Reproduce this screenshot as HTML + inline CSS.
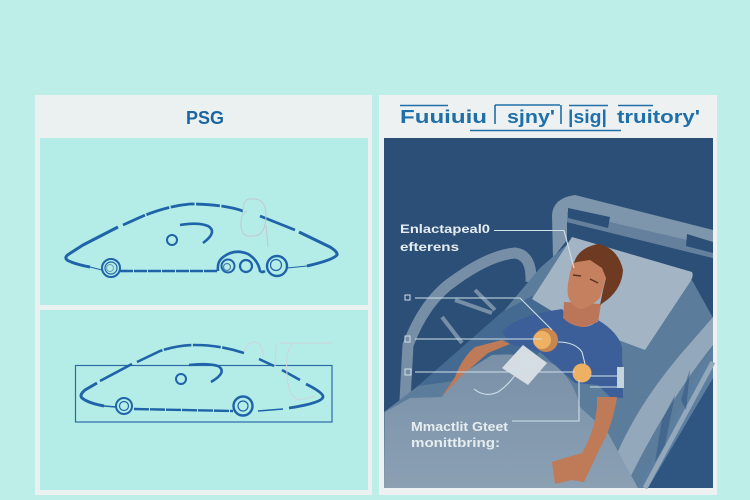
<!DOCTYPE html>
<html><head><meta charset="utf-8"><style>
html,body{margin:0;padding:0;background:#b9ece6;width:750px;height:500px;overflow:hidden}
svg{display:block}
text{font-family:"Liberation Sans",sans-serif}
</style></head><body>
<svg width="750" height="500" viewBox="0 0 750 500" xmlns="http://www.w3.org/2000/svg">
<defs>
<linearGradient id="bl" x1="0" y1="0" x2="0" y2="1"><stop offset="0" stop-color="#7990a8"/><stop offset="1" stop-color="#8ba0b3"/></linearGradient>
</defs>
<rect width="750" height="500" fill="#bdeee8"/>
<!-- left panel -->
<rect x="35" y="95" width="337" height="400" fill="#ebf0f0"/>
<rect x="40" y="138" width="328" height="167" fill="#b4ece8"/>
<rect x="40" y="310" width="328" height="180" fill="#b4ece8"/>
<text x="205" y="124" font-size="18" font-weight="bold" fill="#1c659f" text-anchor="middle">PSG</text>
<!-- car 1 -->
<g fill="none" stroke="#1f63a8" stroke-linecap="butt" stroke-linejoin="round">
<path d="M90 267 Q74 264 67 260 Q64 257 69 254 L83 245 L118 227" stroke-width="3"/>
<path d="M123 225 L143 216 Q168 206 190 204 Q222 204 243 211" stroke-width="2.8" stroke-dasharray="24 1.5"/>
<path d="M260 216 L295 230" stroke-width="2.8"/>
<path d="M299 232 L330 247 Q338 252 337 255 Q333 260 307 266" stroke-width="3"/>
<path d="M90 267 L102 270 M307 266 L287 268" stroke-width="1"/>
<path d="M120 271 L218 271" stroke-width="2.6" stroke-dasharray="13 1"/>
<path d="M180 225 Q198 222 208 226 Q218 232 203 243" stroke-width="2.6"/>
<circle cx="172" cy="240" r="5" stroke-width="2"/>
<circle cx="111" cy="268" r="9" stroke-width="2"/>
<circle cx="111" cy="268" r="6" stroke-width="1.2"/>
<circle cx="110" cy="268" r="3.5" stroke-width="1" stroke="#6fa0b8"/>
<circle cx="277" cy="266" r="10" stroke-width="2.4"/>
<circle cx="276" cy="265" r="5.5" stroke-width="1.2"/>
<path d="M218 271 Q217 262 222 258 Q234 248 248 254 Q258 260 260 271 Q262 273 265 271" stroke-width="2.6"/>
<circle cx="228" cy="266" r="6.5" stroke-width="2"/>
<circle cx="227" cy="267" r="3.5" stroke-width="1.2" stroke="#4f86a8"/>
<circle cx="246" cy="266" r="6" stroke-width="2.2"/>
</g>
<path d="M243 211 Q243 198 252 199 Q266 198 266 215 Q266 236 253 236 Q240 238 241 222 Q241 214 247 211 M266 225 L268 247" fill="none" stroke="#c3c8cf" stroke-width="1"/>
<!-- car 2 -->
<rect x="75.5" y="365.5" width="256.5" height="56.5" fill="none" stroke="#2b6ba6" stroke-width="1.2"/>
<g fill="none" stroke="#1f63a8" stroke-linejoin="round">
<path d="M104 406 Q88 403 82 398 Q79 395 85 390 L97 383" stroke-width="3"/>
<path d="M100 381 L132 364" stroke-width="2.6"/>
<path d="M137 362 L160 351 Q178 345 195 345 Q220 345 244 353" stroke-width="2.6" stroke-dasharray="28 1.5"/>
<path d="M259 359 L274 366" stroke-width="2.6"/>
<path d="M282 370 L300 380" stroke-width="2.6"/>
<path d="M306 384 Q324 393 323 397 Q322 403 289 408" stroke-width="2.8"/>
<path d="M283 409 L258 411 M104 406 L116 407" stroke-width="1.6"/>
<path d="M134 409 L233 411" stroke-width="2.4" stroke-dasharray="15 1"/>
<path d="M189 365 Q208 363 218 366 Q228 372 211 382" stroke-width="2.6"/>
<circle cx="181" cy="379" r="5" stroke-width="2"/>
<circle cx="124" cy="406" r="8" stroke-width="2"/>
<circle cx="124" cy="406" r="4.5" stroke-width="1.2"/>
<circle cx="243" cy="406" r="9.5" stroke-width="2.4"/>
<circle cx="243" cy="406" r="5" stroke-width="1.2"/>
</g>
<path d="M244 352 Q247 342 255 342 Q263 343 263 356 M276 344 L275 367 M293 343 Q285 350 287 375 Q288 398 300 400 L315 396 M280 343 L332 343" fill="none" stroke="#cdd4d8" stroke-width="1"/>

<!-- right panel -->
<rect x="379" y="95" width="338" height="400" fill="#eef1f1"/>
<rect x="384" y="138" width="329" height="350" fill="#2c4f78"/>
<text x="400" y="123" font-size="18" font-weight="bold" fill="#1f6fa8" textLength="87" lengthAdjust="spacingAndGlyphs">Fuuiuiu</text>
<text x="507" y="123" font-size="18" font-weight="bold" fill="#1f6fa8" textLength="48" lengthAdjust="spacingAndGlyphs">sjny'</text>
<text x="568" y="123" font-size="18" font-weight="bold" fill="#1f6fa8" textLength="39" lengthAdjust="spacingAndGlyphs">|sig|</text>
<text x="617" y="123" font-size="18" font-weight="bold" fill="#1f6fa8" textLength="83" lengthAdjust="spacingAndGlyphs">truitory'</text>
<path d="M400 105.500 H448 M495 105 H560 M569 105.500 H608 M618 105.500 H653 M495 105 V124 M561 105 V124 M470 130.500 H621" fill="none" stroke="#1f6fa8" stroke-width="1.6"/>

<!-- headboard -->
<path d="M553 258 L552 215 Q553 198 575 195 L713 230 L713 258 L567 222 L567 240Z" fill="#7e96ac"/>
<path d="M567 222 L713 258 L713 246 L567 212Z" fill="#64809d"/>
<path d="M568 208 L610 217 L608 228 L568 218Z M687 234 L713 242 L713 253 L686 246Z" fill="#2c4f78"/>
<!-- left rail -->
<path d="M405 400 L408 345 Q425 300 455 280 Q490 255 515 253 Q532 255 531 282" fill="none" stroke="#768ea6" stroke-width="11"/>
<path d="M442 317 L462 343 M455 300 L492 313 M475 290 L495 310" fill="none" stroke="#768ea6" stroke-width="4"/>
<!-- mattress -->
<path d="M418 386 L503 312 L540 268 L572 240 L692 280 L713 318 L713 345 L640 488 L384 488 L384 412Z" fill="#5b7c9b"/>
<path d="M418 386 L502 312 L532 296 L570 322 L520 372Z" fill="#456a92"/>
<!-- pillow -->
<path d="M572 237 L692 272 Q694 276 690 282 L645 350 L570 322 L532 299Z" fill="#a3b5c5"/>
<!-- right rail -->
<path d="M713 377 L713 488 L648 488Z" fill="#2f5681"/>
<path d="M713 345 L713 378 L648 488 L638 488Z" fill="#5c7ea0"/>
<path d="M713 317 L713 345 Q665 405 625 488 L604 488 Q625 420 680 355Z" fill="#93a8ba"/>
<path d="M713 362 L645 488" fill="none" stroke="#93a8ba" stroke-width="5"/>
<path d="M681 400 L688 375 L690 370 L686 410Z M662 420 L675 395 L665 445 L655 462Z" fill="#2f5681" opacity=".55"/>
<!-- left arm -->
<path d="M502 340 L475 347 Q462 358 455 377 L441 398 L450 392 L465 373 L488 353 L510 344Z" fill="#bf7a58"/>
<!-- shirt -->
<path d="M502 332 Q515 316 562 309 Q572 325 582 327 Q592 327 598 320 Q618 332 622 347 L623 398 L610 397 L598 385 L575 383 L540 352 L510 344Z" fill="#3c5f9a"/>
<!-- neck -->
<path d="M564 302 L563 318 Q572 327 585 327 L598 322 L601 304 Z" fill="#bb7558"/>
<!-- head -->
<path d="M573 262 Q566 285 568 296 Q572 308 582 309 Q592 306 600 298 L608 270 L600 255Z" fill="#c5805f"/>
<path d="M574 263 Q578 248 598 244 Q618 248 623 270 Q622 288 607 300 L600 305 L603 290 L606 278 L602 268 L590 260 L577 262Z" fill="#6e3a22"/>
<path d="M573 275 L581 276 M590 279 L598 283" stroke="#5c3423" stroke-width="1.500" fill="none"/>
<!-- blanket -->
<path d="M385 412 L410 398 L442 397 L465 372 L492 355 Q530 352 555 365 Q575 382 580 407 L608 433 L638 488 L384 488Z" fill="url(#bl)"/>
<!-- right arm -->
<path d="M597 397 L617 397 Q613 425 600 448 L584 482 L572 480 L555 484 L552 462 L568 457 L582 453 Q598 425 597 397Z" fill="#bf7a58"/>
<!-- pad -->
<path d="M523 345 L547 363 L528 385 L502 368Z" fill="#d6dde2"/>
<!-- sensors -->
<circle cx="546" cy="340" r="12" fill="#c68750"/>
<circle cx="542" cy="340" r="9" fill="#eeb062"/>
<circle cx="582" cy="373" r="9.500" fill="#eeb062"/>
<rect x="617" y="367" width="7" height="21" fill="#c4d3dc"/>
<!-- lines -->
<g fill="none" stroke="#cfe0e8" stroke-width="1.100">
<path d="M494 230.500 H564 L574 268"/>
<path d="M415 298 H520 L552 330"/>
<path d="M415 339 H542"/>
<path d="M415 372 H575"/>
<path d="M512 421 H579 V380"/>
<path d="M558 342 Q575 342 582 352 L585 364"/>
<path d="M590 376 H617 M590 387 H617"/>
<path d="M474 389 Q485 398 498 392 Q510 384 520 368 L530 352"/>
<path d="M518 356 L540 372 L575 372"/>
</g>
<g fill="none" stroke="#d4dee4" stroke-width="1">
<rect x="405" y="295" width="5" height="5"/>
<rect x="405" y="336" width="5" height="6"/>
<rect x="405" y="369" width="6" height="6"/>
</g>
<text x="400" y="233" font-size="12" font-weight="bold" fill="#e6edf1" textLength="90" lengthAdjust="spacingAndGlyphs">Enlactapeal0</text>
<text x="400" y="251" font-size="12" font-weight="bold" fill="#e6edf1" textLength="59" lengthAdjust="spacingAndGlyphs">efterens</text>
<text x="411" y="431" font-size="13" font-weight="bold" fill="#e6edf1" textLength="97" lengthAdjust="spacingAndGlyphs">Mmactlit Gteet</text>
<text x="411" y="447" font-size="12.500" font-weight="bold" fill="#e6edf1" textLength="89" lengthAdjust="spacingAndGlyphs">monittbring:</text>
</svg>
</body></html>
